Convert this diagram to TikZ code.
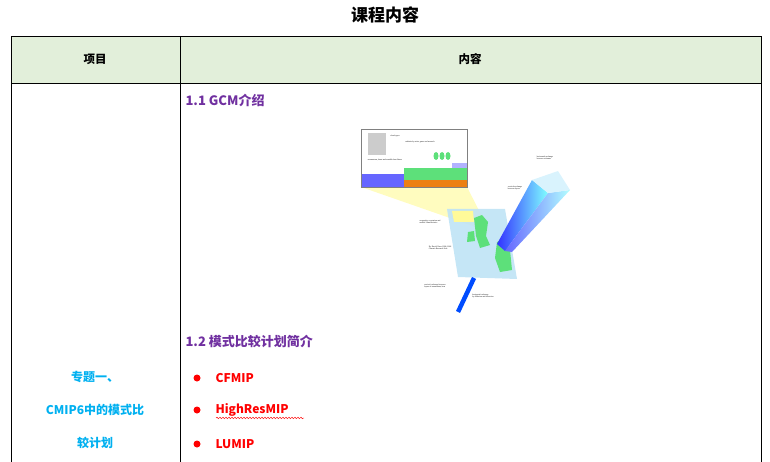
\documentclass[tikz,border=0pt]{standalone}
\usepackage{fontspec}
\setmainfont{Liberation Serif}
\newfontfamily\cjk{Noto Sans CJK SC}
\usetikzlibrary{positioning,decorations.pathmorphing}
\definecolor{headgreen}{HTML}{E2EFDA}
\definecolor{titlepurple}{HTML}{7030A0}
\definecolor{topiccyan}{HTML}{00B0F0}
\definecolor{mapblue}{HTML}{BFE3F5}
\definecolor{landgreen}{HTML}{5DE07A}

\begin{document}
\begin{tikzpicture}
[x=1pt,y=-1pt,
head/.style={font=\cjk\bfseries\fontsize{11.5}{13}\selectfont},
section/.style={anchor=west, text=titlepurple, font=\cjk\bfseries\fontsize{13}{15}\selectfont},
item/.style={anchor=west, text=red, font=\cjk\bfseries\fontsize{12}{14}\selectfont},
dot/.style={circle, fill=red, inner sep=0pt, minimum size=7pt},
topic/.style={text=topiccyan, font=\cjk\bfseries\fontsize{12}{14}\selectfont},
tiny/.style={font=\fontsize{2}{2.4}\selectfont, align=left, inner sep=0pt}
]
    \useasboundingbox (0,0) rectangle (770,462);
    % table
    \fill[headgreen] (11,36) rectangle (761,83);
    \draw[thick] (11,462) -- (11,36) -- (761,36) -- (761,462);
    \draw[thick] (11,83) -- (761,83);
    \draw[thick] (180,36) -- (180,462);
    \node[font=\cjk\bfseries\fontsize{17}{20}\selectfont] (title) at (385,15) {课程内容};
    \node[head] (colitem) at (95,59) {项目};
    \node[head] (colcontent) at (470,59) {内容};
    % left column
    \node[topic] (topic1) at (95,377) {专题一、};
    \node[topic] (topic2) at (95,410) {CMIP6中的模式比};
    \node[topic] (topic3) at (95,443) {较计划};
    % right column
    \node[section] (gcm) at (182,100) {1.1 GCM介绍};
    \node[section] (mip) at (182,341) {1.2 模式比较计划简介};
    \node[dot] (d1) at (197,378) {};
    \node[dot] (d2) at (197,410) {};
    \node[dot] (d3) at (197,444) {};
    \node[item] (cfmip) at (212,378) {CFMIP};
    \node[item] (highres) at (212,410) {HighResMIP};
    \node[item] (lumip) at (212,444) {LUMIP};
    \draw[red, decorate, decoration={snake, amplitude=0.8pt, segment length=3pt}]
      (highres.south west) ++(4,-2) -- ++(88,0);
    % GCM figure
    \fill[yellow!25] (361,187) -- (467,187) -- (490,232) -- cycle;
    \fill[yellow!25] (361,187) -- (467,187) -- (467,129) -- cycle;
    \fill[mapblue, opacity=.9] (447,209) -- (505,209) -- (517,279) -- (458,277) -- cycle;
    \fill[landgreen] (474,218) -- (482,215) -- (488,222) -- (486,236) -- (490,245) -- (480,248) -- (476,236) -- cycle;
    \fill[landgreen] (468,232) -- (474,231) -- (475,241) -- (467,242) -- cycle;
    \fill[landgreen] (497,242) -- (505,238) -- (510,250) -- (512,270) -- (500,272) -- (495,258) -- cycle;
    \fill[yellow!40] (452,211) -- (473,211) -- (474,222) -- (454,222) -- cycle;
    \fill[blue!70!cyan] (472,277) -- (476,279) -- (460,313) -- (456,311) -- cycle;
    \shade[left color=blue!80, right color=cyan!50] (497,244) -- (532,180) -- (548,193) -- (505,251) -- cycle;
    \shade[left color=blue!60, right color=cyan!30] (548,193) -- (570,190) -- (512,252) -- (505,251) -- cycle;
    \fill[cyan!15] (532,180) -- (558,171) -- (570,190) -- (548,193) -- cycle;
    % inset box
    \fill[white] (361,129) rectangle (467,187);
    \draw[gray] (361,129) rectangle (467,187);
    \fill[gray!40] (368,133) rectangle (386,155);
    \fill[blue!60] (362,174) rectangle (404,187);
    \fill[landgreen] (404,168) rectangle (467,180);
    \fill[orange!70!brown] (404,180) rectangle (467,187);
    \fill[blue!30] (452,163) rectangle (467,168);
    \foreach \tx in {436,442,448} \fill[landgreen] (\tx,156) ellipse (2.5pt and 4pt);
    \node[tiny] (clouds) at (395,136) {cloud types};
    \node[tiny] (aerosol) at (420,142) {radiatively active gases and aerosols};
    \node[tiny] (fluxes) at (385,160) {momentum, latent and sensible heat fluxes};
    \node[tiny] (viner) at (440,248) {Dr. David Viner 1998, 2002\\Climatic Research Unit};
    \node[tiny] (orog) at (430,222) {orography, vegetation and\\surface characteristics};
    \node[tiny] (vert) at (515,188) {vertical exchange\\between layers};
    \node[tiny] (horiz) at (545,158) {horizontal exchange\\between columns};
    \node[tiny] (vertlow) at (435,286) {vertical exchange between\\layers of momentum, heat};
    \node[tiny] (horizlow) at (483,296) {horizontal exchange\\by diffusion and advection};
\end{tikzpicture}
\end{document}
